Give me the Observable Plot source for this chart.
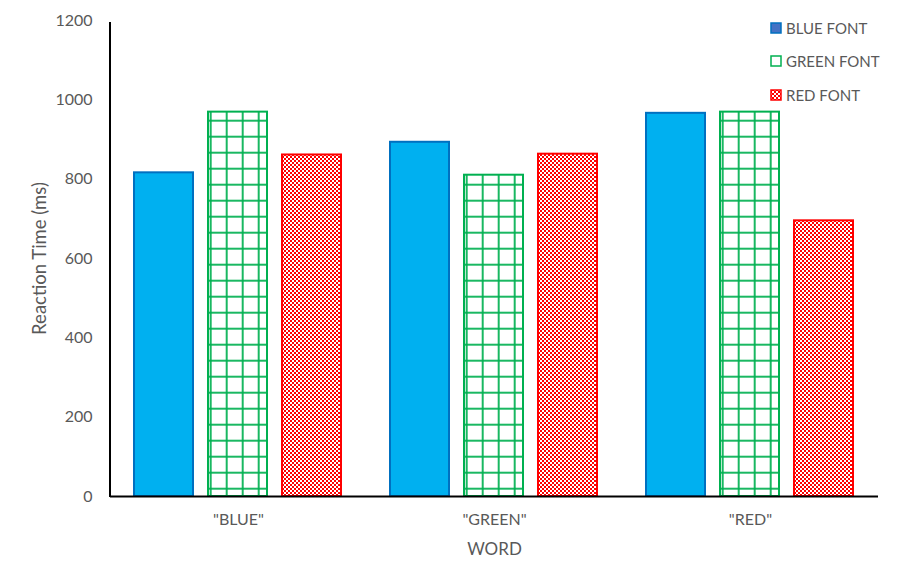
<!DOCTYPE html>
<html>
<head>
<meta charset="utf-8">
<script src="https://cdn.jsdelivr.net/npm/d3@7"></script>
<script src="https://cdn.jsdelivr.net/npm/@observablehq/plot@0.6"></script>
<style>
  html, body { margin: 0; padding: 0; background: #fff; }
  #wrap { position: relative; width: 900px; height: 584px; font-family: Lato, "Open Sans", sans-serif; }
  #legend { position: absolute; left: 770px; top: 11px; color: #595959; font-size: 15px; }
  .item { display: flex; align-items: center; height: 33.5px; }
  .item svg { margin-right: 4px; }
</style>
</head>
<body>
<svg width="0" height="0" style="position:absolute">
  <defs>
    <pattern id="greenGrid" patternUnits="userSpaceOnUse" width="16" height="16" x="10.7" y="0.7">
      <rect width="16" height="16" fill="#fff"/>
      <line x1="0" y1="8" x2="16" y2="8" stroke="#00B050" stroke-width="1.8"/>
      <line x1="8" y1="0" x2="8" y2="16" stroke="#00B050" stroke-width="1.8"/>
    </pattern>
    <pattern id="redChecker" patternUnits="userSpaceOnUse" width="4" height="4">
      <rect width="4" height="4" fill="#FF0000"/>
      <rect x="0" y="0" width="2" height="2" fill="#fff"/>
      <rect x="2" y="2" width="2" height="2" fill="#fff"/>
    </pattern>
  </defs>
</svg>
<div id="wrap">
  <div id="chart"></div>
  <div id="legend"></div>
</div>
<script>
const words = ['"BLUE"', '"GREEN"', '"RED"'];
const fonts = ["BLUE FONT", "GREEN FONT", "RED FONT"];
const blueFont = [816, 893, 966];
const greenFont = [969, 810, 969];
const redFont = [861, 863, 695];
const yTicks = [0, 200, 400, 600, 800, 1000, 1200];
const yTitle = "Reaction Time (ms)";
const xTitle = "WORD";

const seriesValues = {"BLUE FONT": blueFont, "GREEN FONT": greenFont, "RED FONT": redFont};
const rows = [];
words.forEach((w, i) => fonts.forEach(f => rows.push({word: w, font: f, value: seriesValues[f][i]})));

const styles = {
  "BLUE FONT": {fill: "#00B0F0", stroke: "#0070C0"},
  "GREEN FONT": {fill: "url(#greenGrid)", stroke: "#00B050"},
  "RED FONT": {fill: "url(#redChecker)", stroke: "#FF0000"}
};

const plot = Plot.plot({
  width: 900,
  height: 584,
  marginLeft: 110,
  marginRight: 22,
  marginTop: 20,
  marginBottom: 88,
  style: {fontFamily: "Lato, 'Open Sans', sans-serif", fontSize: "15px", color: "#595959", background: "transparent"},
  fx: {domain: words, padding: 0},
  x: {domain: fonts, paddingInner: 0.2, paddingOuter: 0.3067, axis: null},
  y: {domain: [0, 1200]},
  marks: [
    ...fonts.map(f => Plot.barY(rows.filter(d => d.font === f), {
      fx: "word", x: "font", y: "value",
      fill: styles[f].fill, stroke: styles[f].stroke, strokeWidth: 2
    })),
    Plot.ruleY([0], {stroke: "#000", strokeWidth: 2}),
    Plot.axisY(yTicks, {anchor: "left", tickSize: 0, tickPadding: 18, tickFormat: d => String(d), label: null, fontSize: 16, fill: "#595959"}),
    Plot.axisFx({anchor: "bottom", tickSize: 0, tickPadding: 17, label: null, fontSize: 16, fill: "#595959"}),
    Plot.text([{word: words[1]}], {fx: "word", text: () => xTitle, frameAnchor: "bottom", textAnchor: "middle", dy: 58, fontSize: 17, fill: "#595959"}),
    Plot.text([{word: words[0]}], {fx: "word", text: () => yTitle, frameAnchor: "left", textAnchor: "middle", dx: -70, rotate: -90, fontSize: 18.5, fill: "#595959"})
  ]
});
document.getElementById("chart").appendChild(plot);

// vertical y axis line drawn from the plot's y scale
const ys = plot.scale("y");
d3.select(plot).append("line")
  .attr("x1", 110).attr("x2", 110)
  .attr("y1", ys.apply(1200) + 2).attr("y2", ys.apply(0) + 1)
  .attr("stroke", "#000").attr("stroke-width", 2);

// legend
const legendMarker = {
  "BLUE FONT": {fill: "#4472C4", stroke: "#0070C0"},
  "GREEN FONT": {fill: "#fff", stroke: "#00B050"},
  "RED FONT": {fill: "url(#redChecker)", stroke: "#FF0000"}
};
const legend = d3.select("#legend");
fonts.forEach(f => {
  const item = legend.append("div").attr("class", "item");
  const s = item.append("svg").attr("width", 12).attr("height", 12);
  s.append("rect").attr("x", 1).attr("y", 1).attr("width", 10).attr("height", 10)
    .attr("fill", legendMarker[f].fill).attr("stroke", legendMarker[f].stroke).attr("stroke-width", 1.5);
  item.append("span").text(f);
});
</script>
</body>
</html>
